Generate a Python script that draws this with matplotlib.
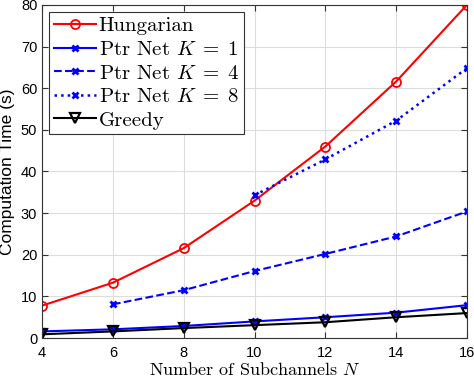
import matplotlib
matplotlib.use("Agg")
import matplotlib.pyplot as plt

plt.rcParams['mathtext.fontset'] = 'cm'
plt.rcParams['axes.unicode_minus'] = False

n_all = [4, 6, 8, 10, 12, 14, 16]
hungarian = [7.8, 13.3, 21.6, 33.0, 46.0, 61.6, 80.0]
ptr_k1 = [1.6, 2.1, 2.9, 4.0, 5.0, 6.1, 7.9]
n_k4 = [6, 8, 10, 12, 14, 16]
ptr_k4 = [8.1, 11.5, 16.1, 20.2, 24.4, 30.4]
n_k8 = [10, 12, 14, 16]
ptr_k8 = [34.3, 42.9, 52.2, 64.8]
greedy = [0.9, 1.6, 2.4, 3.1, 3.8, 5.0, 6.0]

xticks = [4, 6, 8, 10, 12, 14, 16]
yticks = [0, 10, 20, 30, 40, 50, 60, 70, 80]

fig = plt.figure(figsize=(4.74, 3.79), dpi=100)
ax = fig.add_axes([0.089, 0.108, 0.896, 0.879])

ax.plot(n_all, hungarian, '-o', color='red', lw=1.5, ms=6.5, mfc='none', mew=1.3, label='Hungarian')
ax.plot(n_all, ptr_k1, '-x', color='blue', lw=1.5, ms=5, mew=2, label=r'Ptr Net $K\;=\;1$')
ax.plot(n_k4, ptr_k4, '--x', color='blue', lw=1.5, ms=5, mew=2, label=r'Ptr Net $K\;=\;4$')
ax.plot(n_k8, ptr_k8, ':x', color='blue', lw=1.8, ms=5, mew=2, label=r'Ptr Net $K\;=\;8$')
ax.plot(n_all, greedy, '-v', color='black', lw=1.5, ms=6.5, mfc='none', mew=1.6, label='Greedy')

ax.set_xlim(4, 16)
ax.set_ylim(0, 80)
ax.set_xticks(xticks)
ax.set_yticks(yticks)
ax.grid(True, color='#dddddd', lw=0.8)
ax.set_axisbelow(True)
ax.tick_params(direction='in', top=True, right=True, labelsize=10.5, length=4, color='#333333')
ax.tick_params(axis='x', pad=6)
for lab in ax.get_xticklabels() + ax.get_yticklabels():
    lab.set_fontfamily('Liberation Sans')
for s in ax.spines.values():
    s.set_color('#333333')
    s.set_linewidth(0.8)

ax.set_xlabel('Number of Subchannels $N$', fontfamily='cmr10', fontsize=13, labelpad=0.5)
ax.set_ylabel('Computation Time (s)', fontfamily='Liberation Sans', fontsize=12.5, labelpad=4)

leg = ax.legend(loc='upper left', prop={'family': 'cmr10', 'size': 15}, handlelength=2.0,
                handletextpad=0.15, labelspacing=0.24, borderpad=0.22, fancybox=False,
                framealpha=1, borderaxespad=0.35)
leg.get_frame().set_edgecolor('#333333')
leg.get_frame().set_linewidth(0.8)

fig.savefig('out.png', dpi=100)
